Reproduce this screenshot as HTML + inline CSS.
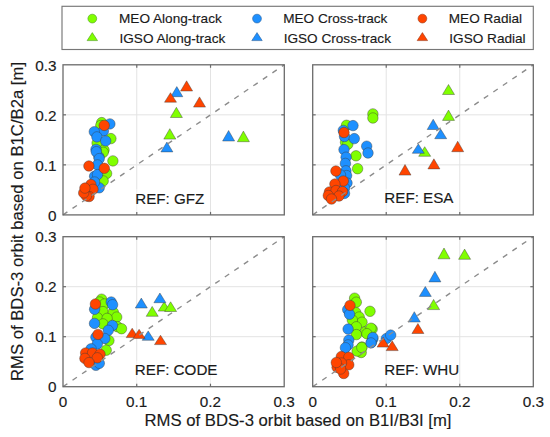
<!DOCTYPE html>
<html><head><meta charset="utf-8"><style>
html,body{margin:0;padding:0;background:#fff;}
svg{display:block;}
text{font-family:"Liberation Sans",sans-serif;fill:#1a1a1a;stroke:#1a1a1a;stroke-width:0.15px;}
</style></head><body>
<svg width="550" height="437" viewBox="0 0 550 437">
<rect width="550" height="437" fill="#fff"/>
<rect x="63" y="64.8" width="221.3" height="150.1" fill="#fff"/>
<line x1="136.77" y1="64.8" x2="136.77" y2="214.9" stroke="#e3e3e3" stroke-width="1"/>
<line x1="63" y1="164.87" x2="284.3" y2="164.87" stroke="#e3e3e3" stroke-width="1"/>
<line x1="210.53" y1="64.8" x2="210.53" y2="214.9" stroke="#e3e3e3" stroke-width="1"/>
<line x1="63" y1="114.83" x2="284.3" y2="114.83" stroke="#e3e3e3" stroke-width="1"/>
<rect x="312.7" y="64.8" width="220.6" height="150.1" fill="#fff"/>
<line x1="386.23" y1="64.8" x2="386.23" y2="214.9" stroke="#e3e3e3" stroke-width="1"/>
<line x1="312.7" y1="164.87" x2="533.3" y2="164.87" stroke="#e3e3e3" stroke-width="1"/>
<line x1="459.77" y1="64.8" x2="459.77" y2="214.9" stroke="#e3e3e3" stroke-width="1"/>
<line x1="312.7" y1="114.83" x2="533.3" y2="114.83" stroke="#e3e3e3" stroke-width="1"/>
<rect x="63" y="236.7" width="221.2" height="150" fill="#fff"/>
<line x1="136.73" y1="236.7" x2="136.73" y2="386.7" stroke="#e3e3e3" stroke-width="1"/>
<line x1="63" y1="336.7" x2="284.2" y2="336.7" stroke="#e3e3e3" stroke-width="1"/>
<line x1="210.47" y1="236.7" x2="210.47" y2="386.7" stroke="#e3e3e3" stroke-width="1"/>
<line x1="63" y1="286.7" x2="284.2" y2="286.7" stroke="#e3e3e3" stroke-width="1"/>
<rect x="312.7" y="236.7" width="220.6" height="150" fill="#fff"/>
<line x1="386.23" y1="236.7" x2="386.23" y2="386.7" stroke="#e3e3e3" stroke-width="1"/>
<line x1="312.7" y1="336.7" x2="533.3" y2="336.7" stroke="#e3e3e3" stroke-width="1"/>
<line x1="459.77" y1="236.7" x2="459.77" y2="386.7" stroke="#e3e3e3" stroke-width="1"/>
<line x1="312.7" y1="286.7" x2="533.3" y2="286.7" stroke="#e3e3e3" stroke-width="1"/>
<circle cx="101.7" cy="122.6" r="5.25" fill="#80ff00" stroke="#3a3a3a" stroke-opacity="0.42" stroke-width="1"/>
<circle cx="100.8" cy="125.5" r="5.25" fill="#80ff00" stroke="#3a3a3a" stroke-opacity="0.42" stroke-width="1"/>
<circle cx="110.9" cy="138.6" r="5.25" fill="#80ff00" stroke="#3a3a3a" stroke-opacity="0.42" stroke-width="1"/>
<circle cx="97.1" cy="143.1" r="5.25" fill="#80ff00" stroke="#3a3a3a" stroke-opacity="0.42" stroke-width="1"/>
<circle cx="104" cy="150" r="5.25" fill="#80ff00" stroke="#3a3a3a" stroke-opacity="0.42" stroke-width="1"/>
<circle cx="103.2" cy="152.3" r="5.25" fill="#80ff00" stroke="#3a3a3a" stroke-opacity="0.42" stroke-width="1"/>
<circle cx="112.9" cy="160.9" r="5.25" fill="#80ff00" stroke="#3a3a3a" stroke-opacity="0.42" stroke-width="1"/>
<circle cx="106.6" cy="173.5" r="5.25" fill="#80ff00" stroke="#3a3a3a" stroke-opacity="0.42" stroke-width="1"/>
<circle cx="103.2" cy="180.9" r="5.25" fill="#80ff00" stroke="#3a3a3a" stroke-opacity="0.42" stroke-width="1"/>
<circle cx="109.9" cy="123.9" r="5.25" fill="#1e90ff" stroke="#3a3a3a" stroke-opacity="0.42" stroke-width="1"/>
<circle cx="103.4" cy="131" r="5.25" fill="#1e90ff" stroke="#3a3a3a" stroke-opacity="0.42" stroke-width="1"/>
<circle cx="94.3" cy="131.7" r="5.25" fill="#1e90ff" stroke="#3a3a3a" stroke-opacity="0.42" stroke-width="1"/>
<circle cx="96.9" cy="136.9" r="5.25" fill="#1e90ff" stroke="#3a3a3a" stroke-opacity="0.42" stroke-width="1"/>
<circle cx="105.7" cy="140.9" r="5.25" fill="#1e90ff" stroke="#3a3a3a" stroke-opacity="0.42" stroke-width="1"/>
<circle cx="96" cy="149.4" r="5.25" fill="#1e90ff" stroke="#3a3a3a" stroke-opacity="0.42" stroke-width="1"/>
<circle cx="98.9" cy="156.9" r="5.25" fill="#1e90ff" stroke="#3a3a3a" stroke-opacity="0.42" stroke-width="1"/>
<circle cx="96.3" cy="151.7" r="5.25" fill="#1e90ff" stroke="#3a3a3a" stroke-opacity="0.42" stroke-width="1"/>
<circle cx="99.2" cy="158.6" r="5.25" fill="#1e90ff" stroke="#3a3a3a" stroke-opacity="0.42" stroke-width="1"/>
<circle cx="97.5" cy="164.9" r="5.25" fill="#1e90ff" stroke="#3a3a3a" stroke-opacity="0.42" stroke-width="1"/>
<circle cx="94.6" cy="176.3" r="5.25" fill="#1e90ff" stroke="#3a3a3a" stroke-opacity="0.42" stroke-width="1"/>
<circle cx="97.5" cy="174.6" r="5.25" fill="#1e90ff" stroke="#3a3a3a" stroke-opacity="0.42" stroke-width="1"/>
<circle cx="99.2" cy="187.8" r="5.25" fill="#1e90ff" stroke="#3a3a3a" stroke-opacity="0.42" stroke-width="1"/>
<circle cx="94.6" cy="182" r="5.25" fill="#1e90ff" stroke="#3a3a3a" stroke-opacity="0.42" stroke-width="1"/>
<circle cx="104.2" cy="125.4" r="5.25" fill="#ff4500" stroke="#3a3a3a" stroke-opacity="0.42" stroke-width="1"/>
<circle cx="88.9" cy="166" r="5.25" fill="#ff4500" stroke="#3a3a3a" stroke-opacity="0.42" stroke-width="1"/>
<circle cx="104.3" cy="168.3" r="5.25" fill="#ff4500" stroke="#3a3a3a" stroke-opacity="0.42" stroke-width="1"/>
<circle cx="90.9" cy="184.5" r="5.25" fill="#ff4500" stroke="#3a3a3a" stroke-opacity="0.42" stroke-width="1"/>
<circle cx="93" cy="189.3" r="5.25" fill="#ff4500" stroke="#3a3a3a" stroke-opacity="0.42" stroke-width="1"/>
<circle cx="89.1" cy="196.5" r="5.25" fill="#ff4500" stroke="#3a3a3a" stroke-opacity="0.42" stroke-width="1"/>
<circle cx="86.4" cy="195.9" r="5.25" fill="#ff4500" stroke="#3a3a3a" stroke-opacity="0.42" stroke-width="1"/>
<circle cx="83.7" cy="192.9" r="5.25" fill="#ff4500" stroke="#3a3a3a" stroke-opacity="0.42" stroke-width="1"/>
<circle cx="84.9" cy="188.1" r="5.25" fill="#ff4500" stroke="#3a3a3a" stroke-opacity="0.42" stroke-width="1"/>
<path d="M186.6 80.8L192.6 91L180.6 91Z" fill="#ff4500" stroke="#3a3a3a" stroke-opacity="0.42" stroke-width="1" stroke-linejoin="miter"/>
<path d="M176.8 86.6L182.8 96.7L170.8 96.7Z" fill="#1e90ff" stroke="#3a3a3a" stroke-opacity="0.42" stroke-width="1" stroke-linejoin="miter"/>
<path d="M170.5 92.7L176.5 102.2L164.5 102.2Z" fill="#ff4500" stroke="#3a3a3a" stroke-opacity="0.42" stroke-width="1" stroke-linejoin="miter"/>
<path d="M199.5 96.9L205.5 107.1L193.5 107.1Z" fill="#ff4500" stroke="#3a3a3a" stroke-opacity="0.42" stroke-width="1" stroke-linejoin="miter"/>
<path d="M176.4 107.3L182.4 117.5L170.4 117.5Z" fill="#80ff00" stroke="#3a3a3a" stroke-opacity="0.42" stroke-width="1" stroke-linejoin="miter"/>
<path d="M169.8 128.7L175.8 139.1L163.8 139.1Z" fill="#80ff00" stroke="#3a3a3a" stroke-opacity="0.42" stroke-width="1" stroke-linejoin="miter"/>
<path d="M166.9 142.1L172.9 151.9L160.9 151.9Z" fill="#1e90ff" stroke="#3a3a3a" stroke-opacity="0.42" stroke-width="1" stroke-linejoin="miter"/>
<path d="M228.6 130.5L234.6 141L222.6 141Z" fill="#1e90ff" stroke="#3a3a3a" stroke-opacity="0.42" stroke-width="1" stroke-linejoin="miter"/>
<path d="M243.4 131.1L249.4 141.7L237.4 141.7Z" fill="#80ff00" stroke="#3a3a3a" stroke-opacity="0.42" stroke-width="1" stroke-linejoin="miter"/>
<line x1="63" y1="214.9" x2="284.3" y2="64.8" stroke="#8c8c8c" stroke-width="1.4" stroke-dasharray="5.3 6.2"/>
<rect x="133.9" y="189.1" width="70" height="24.6" fill="#fff" fill-opacity="0.45"/>
<text x="135.2" y="203.6" font-size="15.2">REF: GFZ</text>
<rect x="63" y="64.8" width="221.3" height="150.1" fill="none" stroke="#6b6b6b" stroke-width="1.3"/>
<line x1="136.77" y1="214.9" x2="136.77" y2="211.9" stroke="#6b6b6b" stroke-width="1.2"/>
<line x1="136.77" y1="64.8" x2="136.77" y2="67.8" stroke="#6b6b6b" stroke-width="1.2"/>
<line x1="63" y1="164.87" x2="66" y2="164.87" stroke="#6b6b6b" stroke-width="1.2"/>
<line x1="284.3" y1="164.87" x2="281.3" y2="164.87" stroke="#6b6b6b" stroke-width="1.2"/>
<line x1="210.53" y1="214.9" x2="210.53" y2="211.9" stroke="#6b6b6b" stroke-width="1.2"/>
<line x1="210.53" y1="64.8" x2="210.53" y2="67.8" stroke="#6b6b6b" stroke-width="1.2"/>
<line x1="63" y1="114.83" x2="66" y2="114.83" stroke="#6b6b6b" stroke-width="1.2"/>
<line x1="284.3" y1="114.83" x2="281.3" y2="114.83" stroke="#6b6b6b" stroke-width="1.2"/>
<circle cx="372.9" cy="113.9" r="5.25" fill="#80ff00" stroke="#3a3a3a" stroke-opacity="0.42" stroke-width="1"/>
<circle cx="372.9" cy="118" r="5.25" fill="#80ff00" stroke="#3a3a3a" stroke-opacity="0.42" stroke-width="1"/>
<circle cx="346.5" cy="125.3" r="5.25" fill="#80ff00" stroke="#3a3a3a" stroke-opacity="0.42" stroke-width="1"/>
<circle cx="345.5" cy="142.3" r="5.25" fill="#80ff00" stroke="#3a3a3a" stroke-opacity="0.42" stroke-width="1"/>
<circle cx="347.8" cy="144.2" r="5.25" fill="#80ff00" stroke="#3a3a3a" stroke-opacity="0.42" stroke-width="1"/>
<circle cx="356" cy="155.8" r="5.25" fill="#80ff00" stroke="#3a3a3a" stroke-opacity="0.42" stroke-width="1"/>
<circle cx="357.6" cy="168.7" r="5.25" fill="#80ff00" stroke="#3a3a3a" stroke-opacity="0.42" stroke-width="1"/>
<circle cx="353" cy="125.6" r="5.25" fill="#1e90ff" stroke="#3a3a3a" stroke-opacity="0.42" stroke-width="1"/>
<circle cx="344.5" cy="136.5" r="5.25" fill="#1e90ff" stroke="#3a3a3a" stroke-opacity="0.42" stroke-width="1"/>
<circle cx="343.3" cy="130.4" r="5.25" fill="#1e90ff" stroke="#3a3a3a" stroke-opacity="0.42" stroke-width="1"/>
<circle cx="354.3" cy="138.6" r="5.25" fill="#1e90ff" stroke="#3a3a3a" stroke-opacity="0.42" stroke-width="1"/>
<circle cx="366.7" cy="146.2" r="5.25" fill="#1e90ff" stroke="#3a3a3a" stroke-opacity="0.42" stroke-width="1"/>
<circle cx="344" cy="149.6" r="5.25" fill="#1e90ff" stroke="#3a3a3a" stroke-opacity="0.42" stroke-width="1"/>
<circle cx="368" cy="153" r="5.25" fill="#1e90ff" stroke="#3a3a3a" stroke-opacity="0.42" stroke-width="1"/>
<circle cx="346.1" cy="157.2" r="5.25" fill="#1e90ff" stroke="#3a3a3a" stroke-opacity="0.42" stroke-width="1"/>
<circle cx="345.4" cy="163.4" r="5.25" fill="#1e90ff" stroke="#3a3a3a" stroke-opacity="0.42" stroke-width="1"/>
<circle cx="345.9" cy="170.8" r="5.25" fill="#1e90ff" stroke="#3a3a3a" stroke-opacity="0.42" stroke-width="1"/>
<circle cx="346.6" cy="175.6" r="5.25" fill="#1e90ff" stroke="#3a3a3a" stroke-opacity="0.42" stroke-width="1"/>
<circle cx="340.5" cy="175" r="5.25" fill="#1e90ff" stroke="#3a3a3a" stroke-opacity="0.42" stroke-width="1"/>
<circle cx="347" cy="183" r="5.25" fill="#1e90ff" stroke="#3a3a3a" stroke-opacity="0.42" stroke-width="1"/>
<circle cx="344.5" cy="188" r="5.25" fill="#1e90ff" stroke="#3a3a3a" stroke-opacity="0.42" stroke-width="1"/>
<circle cx="344.5" cy="193.4" r="5.25" fill="#1e90ff" stroke="#3a3a3a" stroke-opacity="0.42" stroke-width="1"/>
<circle cx="344" cy="132.5" r="5.25" fill="#ff4500" stroke="#3a3a3a" stroke-opacity="0.42" stroke-width="1"/>
<circle cx="335.9" cy="171" r="5.25" fill="#ff4500" stroke="#3a3a3a" stroke-opacity="0.42" stroke-width="1"/>
<circle cx="343.3" cy="181" r="5.25" fill="#ff4500" stroke="#3a3a3a" stroke-opacity="0.42" stroke-width="1"/>
<circle cx="334.9" cy="184" r="5.25" fill="#ff4500" stroke="#3a3a3a" stroke-opacity="0.42" stroke-width="1"/>
<circle cx="329.4" cy="192" r="5.25" fill="#ff4500" stroke="#3a3a3a" stroke-opacity="0.42" stroke-width="1"/>
<circle cx="336" cy="190.5" r="5.25" fill="#ff4500" stroke="#3a3a3a" stroke-opacity="0.42" stroke-width="1"/>
<circle cx="342.5" cy="191.6" r="5.25" fill="#ff4500" stroke="#3a3a3a" stroke-opacity="0.42" stroke-width="1"/>
<circle cx="328.3" cy="195.5" r="5.25" fill="#ff4500" stroke="#3a3a3a" stroke-opacity="0.42" stroke-width="1"/>
<circle cx="339" cy="196" r="5.25" fill="#ff4500" stroke="#3a3a3a" stroke-opacity="0.42" stroke-width="1"/>
<circle cx="331.5" cy="199" r="5.25" fill="#ff4500" stroke="#3a3a3a" stroke-opacity="0.42" stroke-width="1"/>
<path d="M448.5 84.5L454.5 94.5L442.5 94.5Z" fill="#80ff00" stroke="#3a3a3a" stroke-opacity="0.42" stroke-width="1" stroke-linejoin="miter"/>
<path d="M448.5 110.1L454.5 120.4L442.5 120.4Z" fill="#80ff00" stroke="#3a3a3a" stroke-opacity="0.42" stroke-width="1" stroke-linejoin="miter"/>
<path d="M424.7 146.7L430.7 156.3L418.7 156.3Z" fill="#80ff00" stroke="#3a3a3a" stroke-opacity="0.42" stroke-width="1" stroke-linejoin="miter"/>
<path d="M433.2 119.2L439.2 129.5L427.2 129.5Z" fill="#1e90ff" stroke="#3a3a3a" stroke-opacity="0.42" stroke-width="1" stroke-linejoin="miter"/>
<path d="M440.7 129.1L446.7 138.7L434.7 138.7Z" fill="#1e90ff" stroke="#3a3a3a" stroke-opacity="0.42" stroke-width="1" stroke-linejoin="miter"/>
<path d="M418.3 143.9L424.3 153.3L412.3 153.3Z" fill="#1e90ff" stroke="#3a3a3a" stroke-opacity="0.42" stroke-width="1" stroke-linejoin="miter"/>
<path d="M457.7 141.2L463.7 151.7L451.7 151.7Z" fill="#ff4500" stroke="#3a3a3a" stroke-opacity="0.42" stroke-width="1" stroke-linejoin="miter"/>
<path d="M433.9 158.8L439.9 168.9L427.9 168.9Z" fill="#ff4500" stroke="#3a3a3a" stroke-opacity="0.42" stroke-width="1" stroke-linejoin="miter"/>
<path d="M405 164.5L411 175.1L399 175.1Z" fill="#ff4500" stroke="#3a3a3a" stroke-opacity="0.42" stroke-width="1" stroke-linejoin="miter"/>
<line x1="312.7" y1="214.9" x2="533.3" y2="64.8" stroke="#8c8c8c" stroke-width="1.4" stroke-dasharray="5.3 6.2"/>
<rect x="383" y="188.8" width="70" height="24.9" fill="#fff" fill-opacity="0.45"/>
<text x="384.3" y="203.3" font-size="15.2">REF: ESA</text>
<rect x="312.7" y="64.8" width="220.6" height="150.1" fill="none" stroke="#6b6b6b" stroke-width="1.3"/>
<line x1="386.23" y1="214.9" x2="386.23" y2="211.9" stroke="#6b6b6b" stroke-width="1.2"/>
<line x1="386.23" y1="64.8" x2="386.23" y2="67.8" stroke="#6b6b6b" stroke-width="1.2"/>
<line x1="312.7" y1="164.87" x2="315.7" y2="164.87" stroke="#6b6b6b" stroke-width="1.2"/>
<line x1="533.3" y1="164.87" x2="530.3" y2="164.87" stroke="#6b6b6b" stroke-width="1.2"/>
<line x1="459.77" y1="214.9" x2="459.77" y2="211.9" stroke="#6b6b6b" stroke-width="1.2"/>
<line x1="459.77" y1="64.8" x2="459.77" y2="67.8" stroke="#6b6b6b" stroke-width="1.2"/>
<line x1="312.7" y1="114.83" x2="315.7" y2="114.83" stroke="#6b6b6b" stroke-width="1.2"/>
<line x1="533.3" y1="114.83" x2="530.3" y2="114.83" stroke="#6b6b6b" stroke-width="1.2"/>
<circle cx="101.6" cy="299.2" r="5.25" fill="#80ff00" stroke="#3a3a3a" stroke-opacity="0.42" stroke-width="1"/>
<circle cx="99.5" cy="302" r="5.25" fill="#80ff00" stroke="#3a3a3a" stroke-opacity="0.42" stroke-width="1"/>
<circle cx="104.5" cy="304" r="5.25" fill="#80ff00" stroke="#3a3a3a" stroke-opacity="0.42" stroke-width="1"/>
<circle cx="103" cy="311.6" r="5.25" fill="#80ff00" stroke="#3a3a3a" stroke-opacity="0.42" stroke-width="1"/>
<circle cx="113.3" cy="312.3" r="5.25" fill="#80ff00" stroke="#3a3a3a" stroke-opacity="0.42" stroke-width="1"/>
<circle cx="116.7" cy="317.1" r="5.25" fill="#80ff00" stroke="#3a3a3a" stroke-opacity="0.42" stroke-width="1"/>
<circle cx="97.5" cy="317.8" r="5.25" fill="#80ff00" stroke="#3a3a3a" stroke-opacity="0.42" stroke-width="1"/>
<circle cx="107.1" cy="318.4" r="5.25" fill="#80ff00" stroke="#3a3a3a" stroke-opacity="0.42" stroke-width="1"/>
<circle cx="103" cy="323.9" r="5.25" fill="#80ff00" stroke="#3a3a3a" stroke-opacity="0.42" stroke-width="1"/>
<circle cx="117.4" cy="326.7" r="5.25" fill="#80ff00" stroke="#3a3a3a" stroke-opacity="0.42" stroke-width="1"/>
<circle cx="121.5" cy="328.7" r="5.25" fill="#80ff00" stroke="#3a3a3a" stroke-opacity="0.42" stroke-width="1"/>
<circle cx="108.9" cy="340.6" r="5.25" fill="#80ff00" stroke="#3a3a3a" stroke-opacity="0.42" stroke-width="1"/>
<circle cx="106.2" cy="350.2" r="5.25" fill="#80ff00" stroke="#3a3a3a" stroke-opacity="0.42" stroke-width="1"/>
<circle cx="111.2" cy="302" r="5.25" fill="#1e90ff" stroke="#3a3a3a" stroke-opacity="0.42" stroke-width="1"/>
<circle cx="112.6" cy="304.7" r="5.25" fill="#1e90ff" stroke="#3a3a3a" stroke-opacity="0.42" stroke-width="1"/>
<circle cx="94.6" cy="309.3" r="5.25" fill="#1e90ff" stroke="#3a3a3a" stroke-opacity="0.42" stroke-width="1"/>
<circle cx="94.5" cy="323.4" r="5.25" fill="#1e90ff" stroke="#3a3a3a" stroke-opacity="0.42" stroke-width="1"/>
<circle cx="112.4" cy="325.5" r="5.25" fill="#1e90ff" stroke="#3a3a3a" stroke-opacity="0.42" stroke-width="1"/>
<circle cx="108.3" cy="330.3" r="5.25" fill="#1e90ff" stroke="#3a3a3a" stroke-opacity="0.42" stroke-width="1"/>
<circle cx="95.9" cy="337.2" r="5.25" fill="#1e90ff" stroke="#3a3a3a" stroke-opacity="0.42" stroke-width="1"/>
<circle cx="104.8" cy="338.5" r="5.25" fill="#1e90ff" stroke="#3a3a3a" stroke-opacity="0.42" stroke-width="1"/>
<circle cx="97.3" cy="344" r="5.25" fill="#1e90ff" stroke="#3a3a3a" stroke-opacity="0.42" stroke-width="1"/>
<circle cx="91.1" cy="348.8" r="5.25" fill="#1e90ff" stroke="#3a3a3a" stroke-opacity="0.42" stroke-width="1"/>
<circle cx="95.9" cy="365.3" r="5.25" fill="#1e90ff" stroke="#3a3a3a" stroke-opacity="0.42" stroke-width="1"/>
<circle cx="99.3" cy="363.3" r="5.25" fill="#1e90ff" stroke="#3a3a3a" stroke-opacity="0.42" stroke-width="1"/>
<circle cx="95.4" cy="304" r="5.25" fill="#ff4500" stroke="#3a3a3a" stroke-opacity="0.42" stroke-width="1"/>
<circle cx="98" cy="334.4" r="5.25" fill="#ff4500" stroke="#3a3a3a" stroke-opacity="0.42" stroke-width="1"/>
<circle cx="85.6" cy="353" r="5.25" fill="#ff4500" stroke="#3a3a3a" stroke-opacity="0.42" stroke-width="1"/>
<circle cx="92.5" cy="353" r="5.25" fill="#ff4500" stroke="#3a3a3a" stroke-opacity="0.42" stroke-width="1"/>
<circle cx="100" cy="354.3" r="5.25" fill="#ff4500" stroke="#3a3a3a" stroke-opacity="0.42" stroke-width="1"/>
<circle cx="84.9" cy="358.4" r="5.25" fill="#ff4500" stroke="#3a3a3a" stroke-opacity="0.42" stroke-width="1"/>
<circle cx="97.3" cy="357.8" r="5.25" fill="#ff4500" stroke="#3a3a3a" stroke-opacity="0.42" stroke-width="1"/>
<circle cx="89" cy="362.6" r="5.25" fill="#ff4500" stroke="#3a3a3a" stroke-opacity="0.42" stroke-width="1"/>
<path d="M164.2 301.8L170.2 311.1L158.2 311.1Z" fill="#80ff00" stroke="#3a3a3a" stroke-opacity="0.42" stroke-width="1" stroke-linejoin="miter"/>
<path d="M170.6 301.8L176.6 311.5L164.6 311.5Z" fill="#80ff00" stroke="#3a3a3a" stroke-opacity="0.42" stroke-width="1" stroke-linejoin="miter"/>
<path d="M152.2 306.4L158.2 316.3L146.2 316.3Z" fill="#80ff00" stroke="#3a3a3a" stroke-opacity="0.42" stroke-width="1" stroke-linejoin="miter"/>
<path d="M141.3 298.1L147.3 308L135.3 308Z" fill="#1e90ff" stroke="#3a3a3a" stroke-opacity="0.42" stroke-width="1" stroke-linejoin="miter"/>
<path d="M159.9 293L165.9 302.7L153.9 302.7Z" fill="#1e90ff" stroke="#3a3a3a" stroke-opacity="0.42" stroke-width="1" stroke-linejoin="miter"/>
<path d="M148.2 330.9L154.2 340.3L142.2 340.3Z" fill="#1e90ff" stroke="#3a3a3a" stroke-opacity="0.42" stroke-width="1" stroke-linejoin="miter"/>
<path d="M132.2 328.2L138.2 337.6L126.2 337.6Z" fill="#ff4500" stroke="#3a3a3a" stroke-opacity="0.42" stroke-width="1" stroke-linejoin="miter"/>
<path d="M139.1 329.3L145.1 338.4L133.1 338.4Z" fill="#ff4500" stroke="#3a3a3a" stroke-opacity="0.42" stroke-width="1" stroke-linejoin="miter"/>
<path d="M160.5 335.2L166.5 344.6L154.5 344.6Z" fill="#ff4500" stroke="#3a3a3a" stroke-opacity="0.42" stroke-width="1" stroke-linejoin="miter"/>
<line x1="63" y1="386.7" x2="284.2" y2="236.7" stroke="#8c8c8c" stroke-width="1.4" stroke-dasharray="5.3 6.2"/>
<rect x="133.5" y="360.5" width="84" height="25" fill="#fff" fill-opacity="0.45"/>
<text x="134.8" y="375" font-size="15.2">REF: CODE</text>
<rect x="63" y="236.7" width="221.2" height="150" fill="none" stroke="#6b6b6b" stroke-width="1.3"/>
<line x1="136.73" y1="386.7" x2="136.73" y2="383.7" stroke="#6b6b6b" stroke-width="1.2"/>
<line x1="136.73" y1="236.7" x2="136.73" y2="239.7" stroke="#6b6b6b" stroke-width="1.2"/>
<line x1="63" y1="336.7" x2="66" y2="336.7" stroke="#6b6b6b" stroke-width="1.2"/>
<line x1="284.2" y1="336.7" x2="281.2" y2="336.7" stroke="#6b6b6b" stroke-width="1.2"/>
<line x1="210.47" y1="386.7" x2="210.47" y2="383.7" stroke="#6b6b6b" stroke-width="1.2"/>
<line x1="210.47" y1="236.7" x2="210.47" y2="239.7" stroke="#6b6b6b" stroke-width="1.2"/>
<line x1="63" y1="286.7" x2="66" y2="286.7" stroke="#6b6b6b" stroke-width="1.2"/>
<line x1="284.2" y1="286.7" x2="281.2" y2="286.7" stroke="#6b6b6b" stroke-width="1.2"/>
<circle cx="354.6" cy="298.2" r="5.25" fill="#80ff00" stroke="#3a3a3a" stroke-opacity="0.42" stroke-width="1"/>
<circle cx="356.3" cy="302.2" r="5.25" fill="#80ff00" stroke="#3a3a3a" stroke-opacity="0.42" stroke-width="1"/>
<circle cx="355.7" cy="312.5" r="5.25" fill="#80ff00" stroke="#3a3a3a" stroke-opacity="0.42" stroke-width="1"/>
<circle cx="370" cy="311.3" r="5.25" fill="#80ff00" stroke="#3a3a3a" stroke-opacity="0.42" stroke-width="1"/>
<circle cx="359.2" cy="317" r="5.25" fill="#80ff00" stroke="#3a3a3a" stroke-opacity="0.42" stroke-width="1"/>
<circle cx="362" cy="322.2" r="5.25" fill="#80ff00" stroke="#3a3a3a" stroke-opacity="0.42" stroke-width="1"/>
<circle cx="352.3" cy="319.9" r="5.25" fill="#80ff00" stroke="#3a3a3a" stroke-opacity="0.42" stroke-width="1"/>
<circle cx="356.3" cy="326.8" r="5.25" fill="#80ff00" stroke="#3a3a3a" stroke-opacity="0.42" stroke-width="1"/>
<circle cx="368.1" cy="332.6" r="5.25" fill="#80ff00" stroke="#3a3a3a" stroke-opacity="0.42" stroke-width="1"/>
<circle cx="372.2" cy="329.1" r="5.25" fill="#80ff00" stroke="#3a3a3a" stroke-opacity="0.42" stroke-width="1"/>
<circle cx="365.5" cy="331.9" r="5.25" fill="#80ff00" stroke="#3a3a3a" stroke-opacity="0.42" stroke-width="1"/>
<circle cx="356.4" cy="334.6" r="5.25" fill="#80ff00" stroke="#3a3a3a" stroke-opacity="0.42" stroke-width="1"/>
<circle cx="361.9" cy="347" r="5.25" fill="#80ff00" stroke="#3a3a3a" stroke-opacity="0.42" stroke-width="1"/>
<circle cx="361.2" cy="352.5" r="5.25" fill="#80ff00" stroke="#3a3a3a" stroke-opacity="0.42" stroke-width="1"/>
<circle cx="357.1" cy="351.1" r="5.25" fill="#80ff00" stroke="#3a3a3a" stroke-opacity="0.42" stroke-width="1"/>
<circle cx="371" cy="328.2" r="5.25" fill="#80ff00" stroke="#3a3a3a" stroke-opacity="0.42" stroke-width="1"/>
<circle cx="366.9" cy="333.7" r="5.25" fill="#80ff00" stroke="#3a3a3a" stroke-opacity="0.42" stroke-width="1"/>
<circle cx="361.8" cy="347.5" r="5.25" fill="#80ff00" stroke="#3a3a3a" stroke-opacity="0.42" stroke-width="1"/>
<circle cx="386.3" cy="338.6" r="5.25" fill="#1e90ff" stroke="#3a3a3a" stroke-opacity="0.42" stroke-width="1"/>
<circle cx="390.7" cy="335.1" r="5.25" fill="#1e90ff" stroke="#3a3a3a" stroke-opacity="0.42" stroke-width="1"/>
<circle cx="347.7" cy="309.6" r="5.25" fill="#1e90ff" stroke="#3a3a3a" stroke-opacity="0.42" stroke-width="1"/>
<circle cx="349.5" cy="314.2" r="5.25" fill="#1e90ff" stroke="#3a3a3a" stroke-opacity="0.42" stroke-width="1"/>
<circle cx="348.1" cy="329.1" r="5.25" fill="#1e90ff" stroke="#3a3a3a" stroke-opacity="0.42" stroke-width="1"/>
<circle cx="372.9" cy="338.7" r="5.25" fill="#1e90ff" stroke="#3a3a3a" stroke-opacity="0.42" stroke-width="1"/>
<circle cx="371.5" cy="342.2" r="5.25" fill="#1e90ff" stroke="#3a3a3a" stroke-opacity="0.42" stroke-width="1"/>
<circle cx="348.8" cy="340.1" r="5.25" fill="#1e90ff" stroke="#3a3a3a" stroke-opacity="0.42" stroke-width="1"/>
<circle cx="348.1" cy="344.9" r="5.25" fill="#1e90ff" stroke="#3a3a3a" stroke-opacity="0.42" stroke-width="1"/>
<circle cx="345.4" cy="347.7" r="5.25" fill="#1e90ff" stroke="#3a3a3a" stroke-opacity="0.42" stroke-width="1"/>
<circle cx="372.8" cy="337.4" r="5.25" fill="#1e90ff" stroke="#3a3a3a" stroke-opacity="0.42" stroke-width="1"/>
<circle cx="371" cy="342.9" r="5.25" fill="#1e90ff" stroke="#3a3a3a" stroke-opacity="0.42" stroke-width="1"/>
<circle cx="350" cy="305.4" r="5.25" fill="#ff4500" stroke="#3a3a3a" stroke-opacity="0.42" stroke-width="1"/>
<circle cx="341.3" cy="356.6" r="5.25" fill="#ff4500" stroke="#3a3a3a" stroke-opacity="0.42" stroke-width="1"/>
<circle cx="348.8" cy="357.3" r="5.25" fill="#ff4500" stroke="#3a3a3a" stroke-opacity="0.42" stroke-width="1"/>
<circle cx="348.8" cy="364.8" r="5.25" fill="#ff4500" stroke="#3a3a3a" stroke-opacity="0.42" stroke-width="1"/>
<circle cx="341.5" cy="363" r="5.25" fill="#ff4500" stroke="#3a3a3a" stroke-opacity="0.42" stroke-width="1"/>
<circle cx="337.1" cy="367.3" r="5.25" fill="#ff4500" stroke="#3a3a3a" stroke-opacity="0.42" stroke-width="1"/>
<circle cx="343.7" cy="373.5" r="5.25" fill="#ff4500" stroke="#3a3a3a" stroke-opacity="0.42" stroke-width="1"/>
<circle cx="340.6" cy="369" r="5.25" fill="#ff4500" stroke="#3a3a3a" stroke-opacity="0.42" stroke-width="1"/>
<circle cx="336.3" cy="362.5" r="5.25" fill="#ff4500" stroke="#3a3a3a" stroke-opacity="0.42" stroke-width="1"/>
<path d="M444 248L450 258.8L438 258.8Z" fill="#80ff00" stroke="#3a3a3a" stroke-opacity="0.42" stroke-width="1" stroke-linejoin="miter"/>
<path d="M464.6 249.1L470.6 259.3L458.6 259.3Z" fill="#80ff00" stroke="#3a3a3a" stroke-opacity="0.42" stroke-width="1" stroke-linejoin="miter"/>
<path d="M433.6 299.4L439.6 309.6L427.6 309.6Z" fill="#80ff00" stroke="#3a3a3a" stroke-opacity="0.42" stroke-width="1" stroke-linejoin="miter"/>
<path d="M434.9 271.3L440.9 281.9L428.9 281.9Z" fill="#1e90ff" stroke="#3a3a3a" stroke-opacity="0.42" stroke-width="1" stroke-linejoin="miter"/>
<path d="M425.3 286.5L431.3 296.4L419.3 296.4Z" fill="#1e90ff" stroke="#3a3a3a" stroke-opacity="0.42" stroke-width="1" stroke-linejoin="miter"/>
<path d="M414.3 311.7L420.3 322L408.3 322Z" fill="#1e90ff" stroke="#3a3a3a" stroke-opacity="0.42" stroke-width="1" stroke-linejoin="miter"/>
<path d="M417.9 323.5L423.9 333.5L411.9 333.5Z" fill="#ff4500" stroke="#3a3a3a" stroke-opacity="0.42" stroke-width="1" stroke-linejoin="miter"/>
<path d="M383.1 337.3L389.1 347.1L377.1 347.1Z" fill="#ff4500" stroke="#3a3a3a" stroke-opacity="0.42" stroke-width="1" stroke-linejoin="miter"/>
<path d="M392.2 340.8L398.2 350.6L386.2 350.6Z" fill="#ff4500" stroke="#3a3a3a" stroke-opacity="0.42" stroke-width="1" stroke-linejoin="miter"/>
<line x1="312.7" y1="386.7" x2="533.3" y2="236.7" stroke="#8c8c8c" stroke-width="1.4" stroke-dasharray="5.3 6.2"/>
<rect x="382.9" y="360.5" width="76" height="25" fill="#fff" fill-opacity="0.45"/>
<text x="384.2" y="375" font-size="15.2">REF: WHU</text>
<rect x="312.7" y="236.7" width="220.6" height="150" fill="none" stroke="#6b6b6b" stroke-width="1.3"/>
<line x1="386.23" y1="386.7" x2="386.23" y2="383.7" stroke="#6b6b6b" stroke-width="1.2"/>
<line x1="386.23" y1="236.7" x2="386.23" y2="239.7" stroke="#6b6b6b" stroke-width="1.2"/>
<line x1="312.7" y1="336.7" x2="315.7" y2="336.7" stroke="#6b6b6b" stroke-width="1.2"/>
<line x1="533.3" y1="336.7" x2="530.3" y2="336.7" stroke="#6b6b6b" stroke-width="1.2"/>
<line x1="459.77" y1="386.7" x2="459.77" y2="383.7" stroke="#6b6b6b" stroke-width="1.2"/>
<line x1="459.77" y1="236.7" x2="459.77" y2="239.7" stroke="#6b6b6b" stroke-width="1.2"/>
<line x1="312.7" y1="286.7" x2="315.7" y2="286.7" stroke="#6b6b6b" stroke-width="1.2"/>
<line x1="533.3" y1="286.7" x2="530.3" y2="286.7" stroke="#6b6b6b" stroke-width="1.2"/>
<text x="56.4" y="220.6" font-size="15.3" text-anchor="end">0</text>
<text x="56.4" y="170.57" font-size="15.3" text-anchor="end">0.1</text>
<text x="56.4" y="120.53" font-size="15.3" text-anchor="end">0.2</text>
<text x="56.4" y="70.5" font-size="15.3" text-anchor="end">0.3</text>
<text x="56.4" y="392.4" font-size="15.3" text-anchor="end">0</text>
<text x="56.4" y="342.4" font-size="15.3" text-anchor="end">0.1</text>
<text x="56.4" y="292.4" font-size="15.3" text-anchor="end">0.2</text>
<text x="56.4" y="242.4" font-size="15.3" text-anchor="end">0.3</text>
<text x="63" y="407.2" font-size="15.3" text-anchor="middle">0</text>
<text x="136.73" y="407.2" font-size="15.3" text-anchor="middle">0.1</text>
<text x="210.47" y="407.2" font-size="15.3" text-anchor="middle">0.2</text>
<text x="284.2" y="407.2" font-size="15.3" text-anchor="middle">0.3</text>
<text x="312.7" y="407.2" font-size="15.3" text-anchor="middle">0</text>
<text x="386.23" y="407.2" font-size="15.3" text-anchor="middle">0.1</text>
<text x="459.77" y="407.2" font-size="15.3" text-anchor="middle">0.2</text>
<text x="533.3" y="407.2" font-size="15.3" text-anchor="middle">0.3</text>
<text x="298" y="425.6" font-size="16.7" text-anchor="middle">RMS of BDS-3 orbit based on B1I/B3I [m]</text>
<text transform="translate(22.8 221.5) rotate(-90)" x="0" y="0" font-size="16.7" text-anchor="middle">RMS of BDS-3 orbit based on B1C/B2a [m]</text>
<rect x="62" y="6.3" width="471.3" height="43.2" fill="#fff" stroke="#777" stroke-width="1.15"/>
<circle cx="92.3" cy="18.6" r="4.4" fill="#80ff00" stroke="#4f9a20" stroke-width="0.6"/>
<path d="M92.3 32.6L97.5 40.6L87.1 40.6Z" fill="#80ff00" stroke="#4f9a20" stroke-width="0.6"/>
<text x="119" y="23.4" font-size="13.6">MEO Along-track</text>
<text x="119.5" y="43.1" font-size="13.6">IGSO Along-track</text>
<circle cx="257" cy="18.6" r="4.4" fill="#1e90ff" stroke="#2a5f9a" stroke-width="0.6"/>
<path d="M257 32.6L262.2 40.6L251.8 40.6Z" fill="#1e90ff" stroke="#2a5f9a" stroke-width="0.6"/>
<text x="283.2" y="23.4" font-size="13.6">MEO Cross-track</text>
<text x="283.7" y="43.1" font-size="13.6">IGSO Cross-track</text>
<circle cx="422.4" cy="18.6" r="4.4" fill="#ff4500" stroke="#9a3a1a" stroke-width="0.6"/>
<path d="M422.4 32.6L427.6 40.6L417.2 40.6Z" fill="#ff4500" stroke="#9a3a1a" stroke-width="0.6"/>
<text x="448.8" y="23.4" font-size="13.6">MEO Radial</text>
<text x="449.3" y="43.1" font-size="13.6">IGSO Radial</text>
</svg>
</body></html>
